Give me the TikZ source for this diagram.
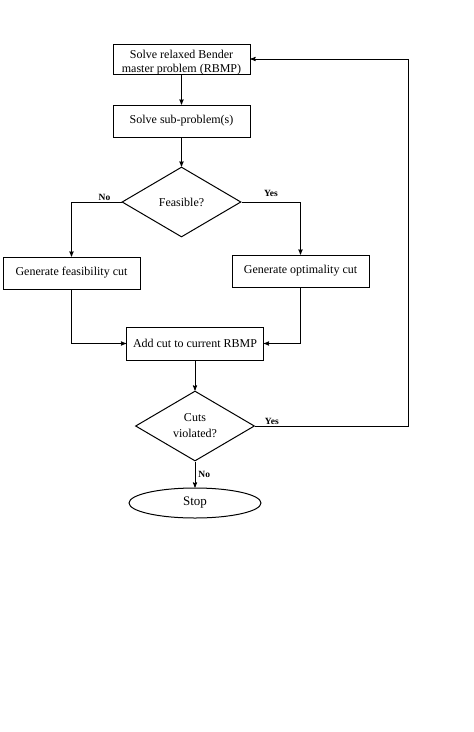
\documentclass[tikz,border=0pt]{standalone}
\usepackage{fontspec}
\setmainfont{Liberation Serif}
\usetikzlibrary{arrows,shapes.geometric}

\begin{document}
\begin{tikzpicture}[->,>=stealth',line width=0.9pt,node distance=62pt,
  block/.style={draw,rectangle,line width=1pt,minimum width=137pt,minimum height=32pt,inner sep=1pt,font=\fontsize{12}{14.5}\selectfont,align=center},
  decision/.style={draw,diamond,line width=1pt,minimum width=119pt,minimum height=70pt,aspect=1.7,inner sep=0pt,font=\fontsize{12}{16}\selectfont,align=center},
  stopnode/.style={draw,ellipse,line width=1pt,minimum width=132pt,minimum height=30pt,font=\fontsize{13}{15}\selectfont},
  answer/.style={inner sep=1pt,font=\bfseries\fontsize{9.5}{11}\selectfont}]

        \useasboundingbox (0,0) rectangle (474pt,-732pt);

        \node[block,minimum height=30pt,text height=27.5pt,text depth=0.5pt] (rbmp) at (181.5pt,-59pt) {Solve relaxed Bender\\master problem (RBMP)};
        \node[block] (sub) [below of=rbmp] {Solve sub-problem(s)};
        \node[decision] (feas) [below of=sub,node distance=81pt] {Feasible?};
        \node[block] (feascut) at (71.5pt,-273pt) {Generate feasibility cut};
        \node[block] (optcut) at (300.5pt,-271pt) {Generate optimality cut};
        \node[block,minimum height=33pt] (addcut) at (195pt,-343.5pt) {Add cut to current RBMP};
        \node[decision] (viol) [below of=addcut,node distance=82.5pt] {Cuts\\violated?};
        \node[stopnode] (stop) [below of=viol,node distance=77pt] {Stop};
        \coordinate (ret) at (408pt,0pt);

        \draw (rbmp) -- (sub);
        \draw (sub) -- (feas);
        \draw (feas.west) -| node[answer,pos=0.17,above] {No} (feascut);
        \draw (feas.east) -| node[answer,pos=0.25,above=4pt] {Yes} (optcut);
        \draw (feascut) |- (addcut);
        \draw (optcut) |- (addcut);
        \draw (addcut) -- (viol);
        \draw (viol) -- node[answer,right=2pt] {No} (stop);
        \draw (viol.east) -- node[answer,pos=0.11,above] {Yes} (viol.east -| ret) |- (rbmp.east);

\end{tikzpicture}
\end{document}
